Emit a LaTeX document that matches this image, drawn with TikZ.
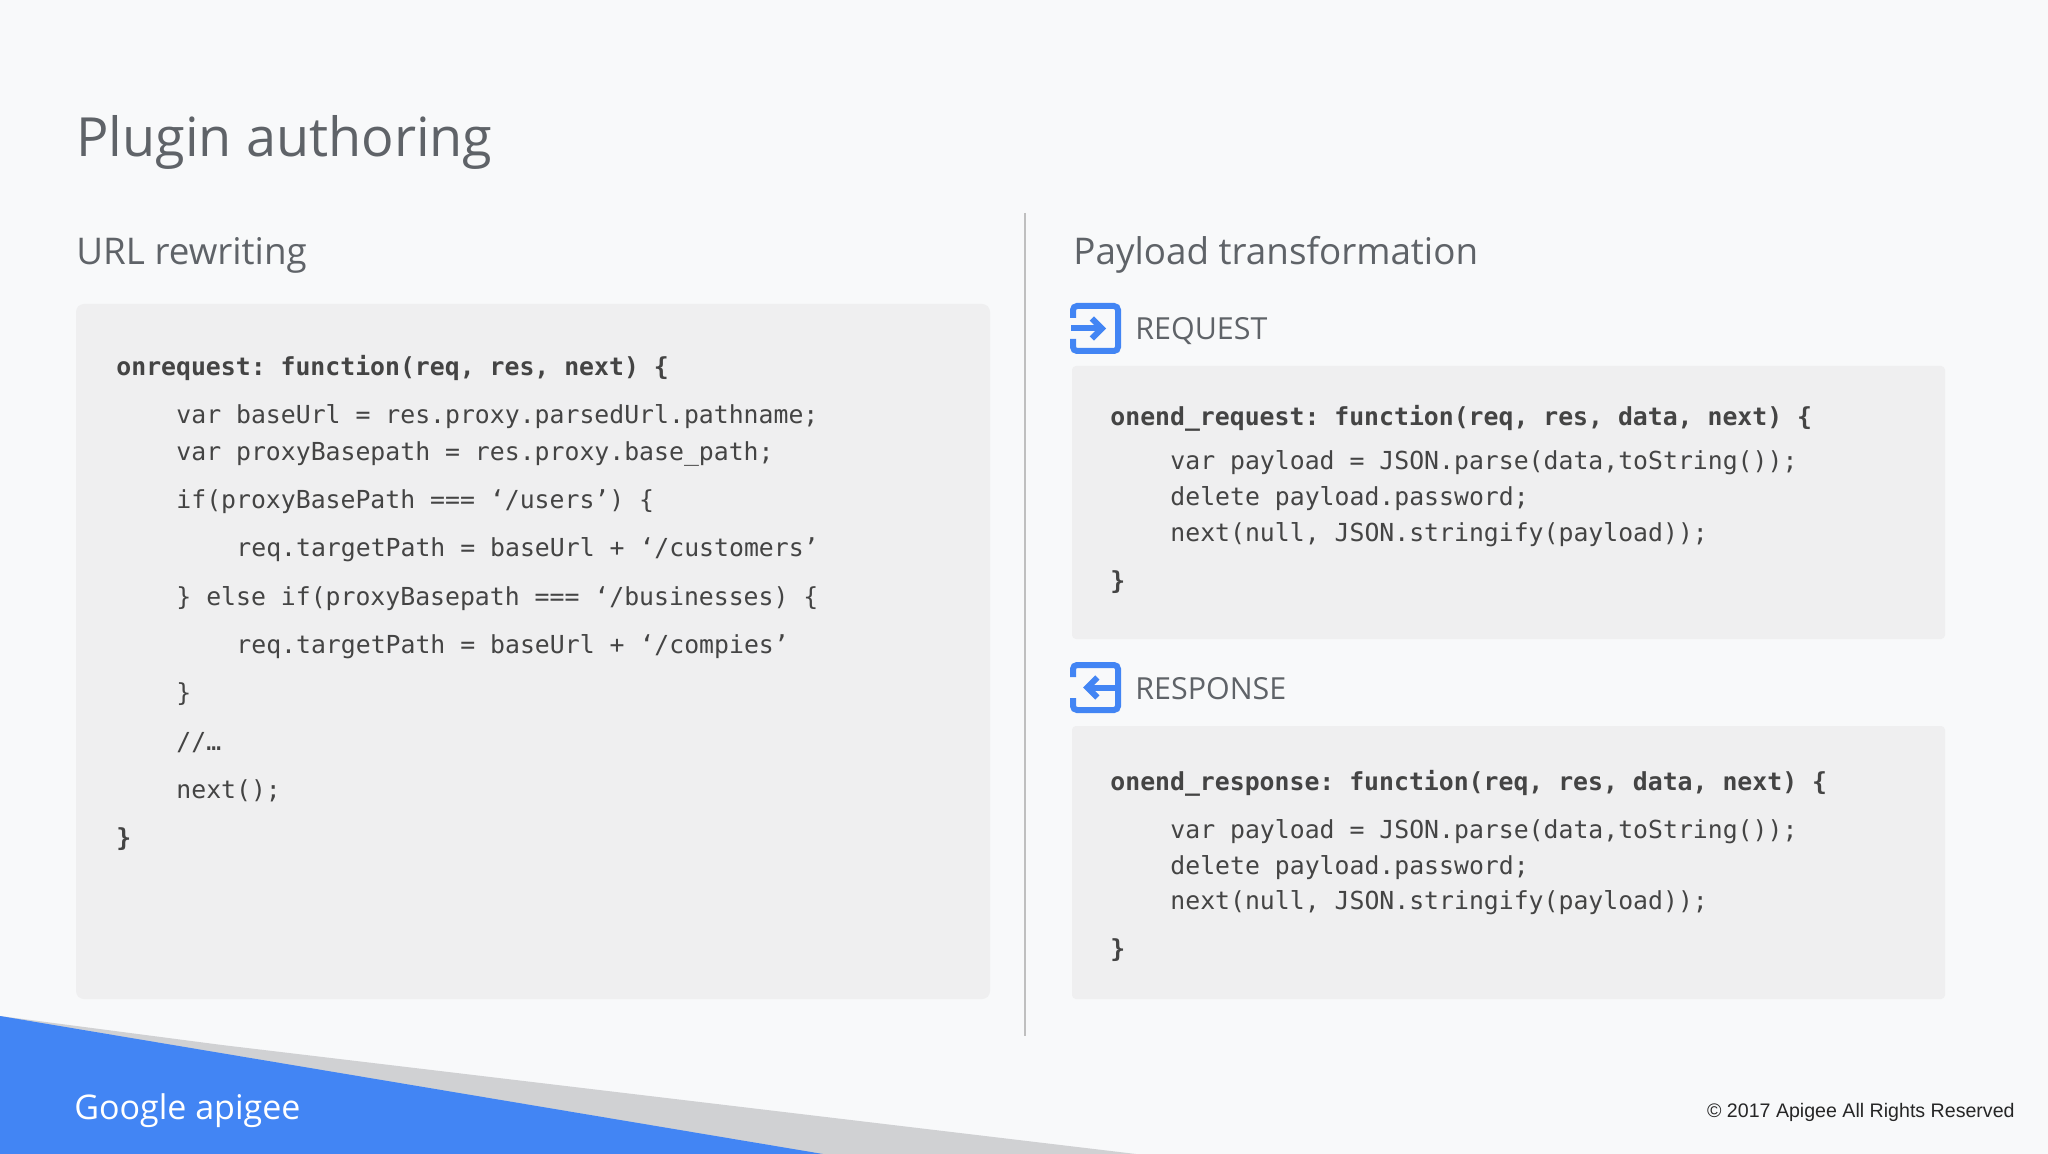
\documentclass[tikz,border=0pt]{standalone}
\usepackage{fontspec}
\setmainfont{Open Sans}
\setmonofont{DejaVu Sans Mono}
\newfontfamily\arialf{Liberation Sans}
\usetikzlibrary{arrows.meta}
\definecolor{bg}{HTML}{F8F9FA}
\definecolor{boxc}{HTML}{EFEFF0}
\definecolor{txt}{HTML}{5F6368}
\definecolor{code}{HTML}{444444}
\definecolor{gblue}{HTML}{4285F4}
\definecolor{wedge}{HTML}{D0D1D3}
\tikzset{
 lbl/.style={anchor=base west,inner sep=0pt,text=txt},
 cd/.style={anchor=base west,inner sep=0pt,text=code,font=\ttfamily\fontsize{12.4}{14}\selectfont},
 cdb/.style={cd,font=\ttfamily\bfseries\fontsize{12.4}{14}\selectfont},
 panel/.style={fill=boxc,draw=none,rounded corners=4pt},
 icon/.style={draw=gblue,line width=3pt,rounded corners=2pt}
}
\begin{document}
\begin{tikzpicture}[x=0.5pt,y=-0.5pt]
\fill[bg] (0,0) rectangle (2048,1154);
\useasboundingbox (0,0) rectangle (2048,1154);
% footer
\fill[wedge] (0,1016) -- (222,1045) -- (1136,1154) -- (0,1154) -- cycle;
\fill[gblue] (0,1016) -- (823,1154) -- (0,1154) -- cycle;
\node[lbl,text=white,font=\fontsize{17}{20}\selectfont] (logo) at (74,1119) {Google apigee};
\node[anchor=base east,inner sep=0pt,text=black!85,font=\arialf\fontsize{9.8}{11}\selectfont] (copy) at (2015,1117) {© 2017 Apigee All Rights Reserved};
% titles
\node[lbl,font=\fontsize{27}{32}\selectfont] (title) at (76,157) {Plugin authoring};
\node[lbl,font=\fontsize{18.4}{22}\selectfont] (url) at (76,265) {URL rewriting};
\node[lbl,font=\fontsize{18.4}{22}\selectfont] (pay) at (1073,265) {Payload transformation};
\draw[black!25,line width=1pt] (1025,213) -- (1025,1036);
% left box
\fill[panel] (76,304) rectangle (990,999);
\node[cdb] (l1) at (116,376) {onrequest: function(req, res, next) \{};
\node[cd] (l2) at (176,424) {var baseUrl = res.proxy.parsedUrl.pathname;};
\node[cd] (l3) at (176,460) {var proxyBasepath = res.proxy.base\_path;};
\node[cd] (l4) at (176,508) {if(proxyBasePath === ‘/users’) \{};
\node[cd] (l5) at (236,556) {req.targetPath = baseUrl + ‘/customers’};
\node[cd] (l6) at (176,605) {\} else if(proxyBasepath === ‘/businesses) \{};
\node[cd] (l7) at (236,653) {req.targetPath = baseUrl + ‘/compies’};
\node[cd] (l8) at (176,701) {\}};
\node[cd] (l9) at (176,750) {//…};
\node[cd] (l10) at (176,798) {next();};
\node[cdb] (l11) at (116,846) {\}};
% request
\draw[icon] (1073,318) -- (1073,306) -- (1118,306) -- (1118,351) -- (1073,351) -- (1073,339);
\draw[gblue,line width=3pt,-{Straight Barb[length=5pt,width=10pt]}] (1071,328.5) -- (1106,328.5);
\node[lbl,font=\fontsize{15.2}{18}\selectfont] (req) at (1135,340) {REQUEST};
\fill[panel,rounded corners=2pt] (1072,366) rectangle (1945,639);
\node[cdb] (r1) at (1110,426) {onend\_request: function(req, res, data, next) \{};
\node[cd] (r2) at (1170,470) {var payload = JSON.parse(data,toString());};
\node[cd] (r3) at (1170,505) {delete payload.password;};
\node[cd] (r4) at (1170,541) {next(null, JSON.stringify(payload));};
\node[cdb] (r5) at (1110,589) {\}};
% response
\draw[icon] (1086,665) -- (1118,665) -- (1118,710) -- (1086,710);
\draw[icon] (1073,677) -- (1073,665) -- (1086,665);
\draw[icon] (1073,698) -- (1073,710) -- (1086,710);
\draw[gblue,line width=3pt,-{Straight Barb[length=5pt,width=10pt]}] (1118,687.5) -- (1083,687.5);
\node[lbl,font=\fontsize{15.2}{18}\selectfont] (resp) at (1135,699) {RESPONSE};
\fill[panel,rounded corners=2pt] (1072,726) rectangle (1945,999);
\node[cdb] (s1) at (1110,790) {onend\_response: function(req, res, data, next) \{};
\node[cd] (s2) at (1170,838) {var payload = JSON.parse(data,toString());};
\node[cd] (s3) at (1170,874) {delete payload.password;};
\node[cd] (s4) at (1170,909) {next(null, JSON.stringify(payload));};
\node[cdb] (s5) at (1110,957) {\}};
\end{tikzpicture}
\end{document}
